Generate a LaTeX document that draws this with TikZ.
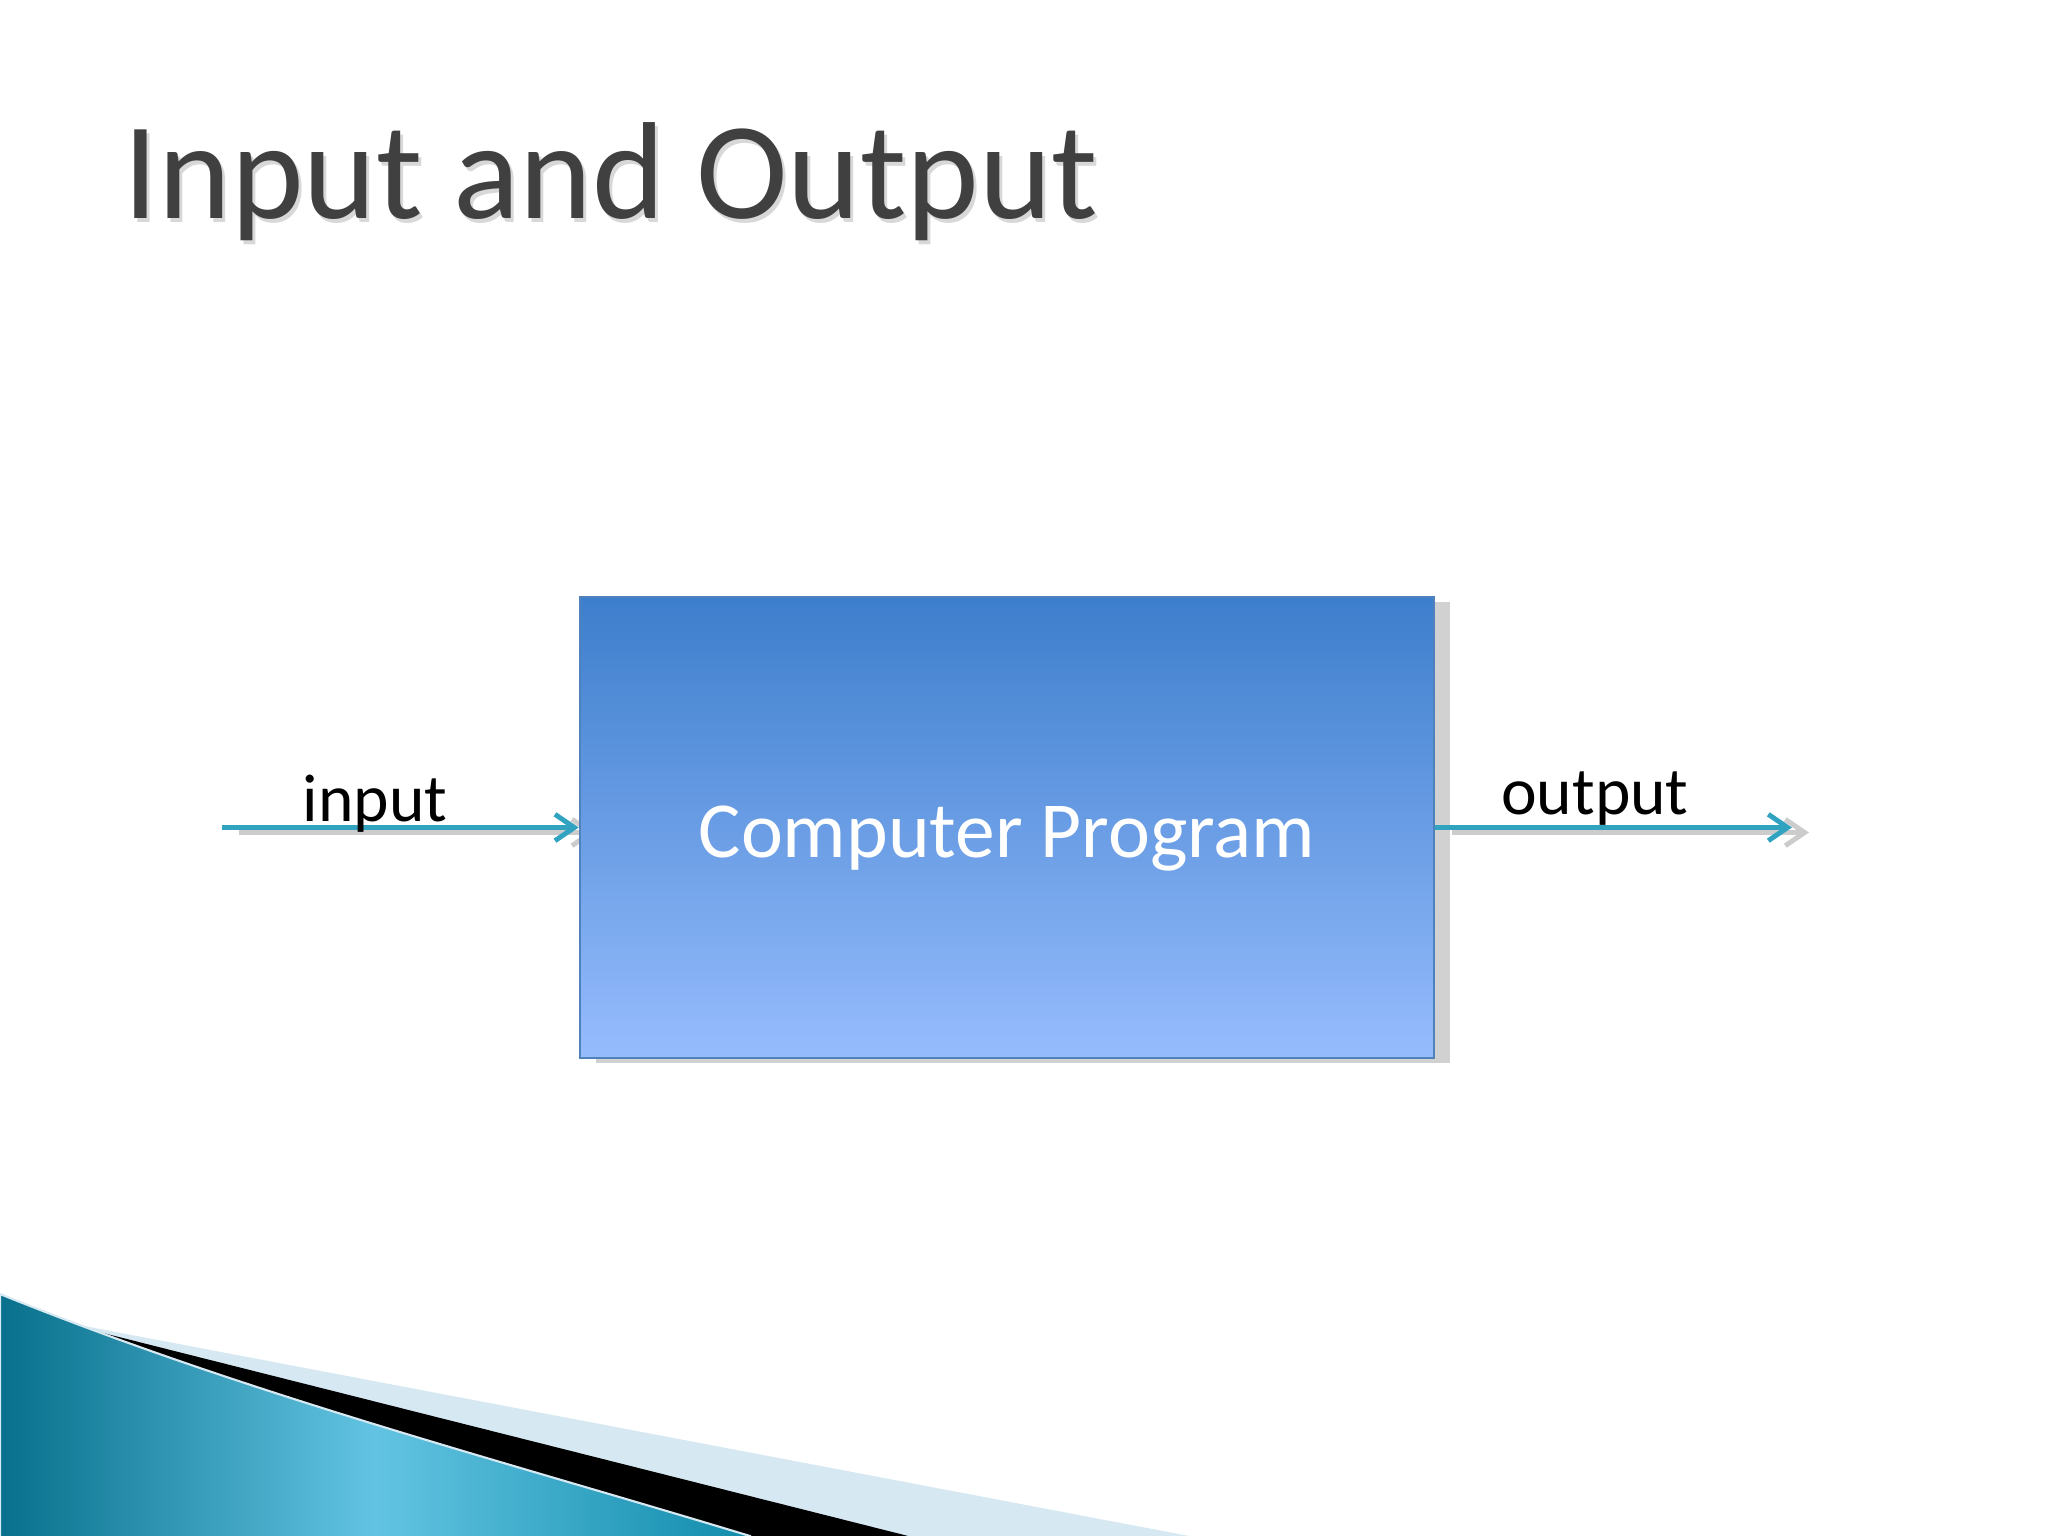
\documentclass[tikz,border=0pt]{standalone}
\usepackage{fontspec}
\setmainfont{Carlito}
\usepackage{tikz}
\usepackage{xcolor}
\usetikzlibrary{arrows.meta, shadows, backgrounds}

\definecolor{titlegray}{RGB}{64,64,64}
\definecolor{flowteal}{RGB}{49,163,193}
\definecolor{boxtop}{RGB}{61,126,204}
\definecolor{boxbottom}{RGB}{150,188,253}
\definecolor{boxline}{RGB}{79,129,189}
\definecolor{decolight}{RGB}{214,232,241}
\definecolor{tealdark}{RGB}{8,112,140}
\definecolor{teallight}{RGB}{98,196,226}
\definecolor{tealmid}{RGB}{18,140,172}

\begin{document}
\begin{tikzpicture}[x=0.01cm, y=-0.01cm,
    flow/.style={draw=flowteal, line width=1.4pt, -{Straight Barb[length=5.5pt, width=7.5pt]}},
    flowshadow/.style={flow, draw=black!20},
    lbl/.style={anchor=base, font=\fontsize{19.2}{23}\selectfont, text=black}]
                \useasboundingbox (0,0) rectangle (2048,1536);

                % title
                \node[anchor=base west, inner sep=0, opacity=0.3, text=black!50, font=\fontsize{39.3}{47}\selectfont] (titleshadow) at (126,222) {Input and Output};
                \node[anchor=base west, inner sep=0, text=titlegray, font=\fontsize{39.3}{47}\selectfont] (title) at (123,218) {Input and Output};

                % bottom corner
                \fill[decolight] (0,1310) -- (1205,1539) -- (0,1539) -- cycle;
                \fill[black] (0,1307) -- (940,1544) -- (0,1544) -- cycle;
                \shade[left color=tealdark, right color=tealmid, middle color=teallight, draw=decolight, line width=0.6pt]
                    (0,1294) .. controls (250,1395) and (500,1460) .. (750,1536) -- (750,1540) -- (0,1540) -- cycle;

                % program box
                \node[rectangle, draw=boxline, line width=0.6pt, top color=boxtop, bottom color=boxbottom,
                      minimum width=8.54cm, minimum height=4.61cm, inner sep=0,
                      drop shadow={shadow xshift=0.16cm, shadow yshift=-0.05cm, fill=black!18, opacity=1}] (prog) at (1007,827.5) {};
                \node[anchor=base, text=white, font=\fontsize{22.6}{27}\selectfont] (progtxt) at ([yshift=-0.3cm]prog.center) {Computer Program};

                \coordinate (instart) at (222,827.5);
                \coordinate (outend) at (1792,827.5);

                \begin{scope}[on background layer]
                \fill[white] (0,0) rectangle (2048,1536);
                \draw[flowshadow] ([shift={(17,5)}]instart) -- ([shift={(17,5)}]prog.west);
                \draw[flowshadow] ([shift={(17,5)}]prog.east) -- ([shift={(17,5)}]outend);
                \end{scope}

                \draw[flow] (instart) -- (prog.west);
                \draw[flow] (prog.east) -- (outend);

                \node[lbl] (inlbl) at (375,821) {input};
                \node[lbl] (outlbl) at (1595,814) {output};
            \end{tikzpicture}
\end{document}
